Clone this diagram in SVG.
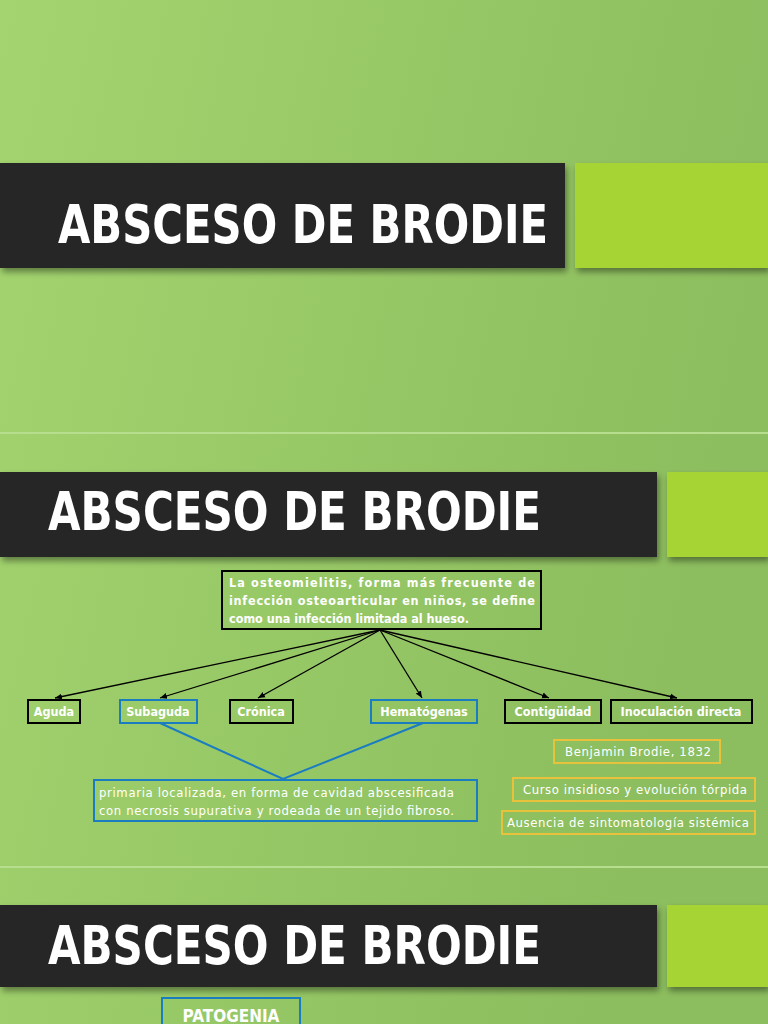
<svg xmlns="http://www.w3.org/2000/svg" width="768" height="1024" viewBox="0 0 768 1024">
<defs>
<linearGradient id="bg" x1="0" y1="0" x2="1" y2="0.3"><stop offset="0" stop-color="#a3d46f"/><stop offset="1" stop-color="#8cbd5e"/></linearGradient>
<marker id="ah" markerWidth="8" markerHeight="8" refX="7" refY="4" orient="auto" markerUnits="userSpaceOnUse"><path d="M0,1 L7,4 L0,7 z" fill="#000"/></marker>
<filter id="sh" x="-5%" y="-10%" width="110%" height="130%"><feDropShadow dx="2" dy="4" stdDeviation="3" flood-opacity="0.4"/></filter>
</defs>
<style>
.t{font-family:"DejaVu Sans Condensed","DejaVu Sans",sans-serif;fill:#fff}
.title{font-size:54px;font-weight:bold}
.nb{fill:none;stroke:#000;stroke-width:2}
.bb{fill:none;stroke:#1a7cc1;stroke-width:2}
.ob{fill:none;stroke:#e8c23a;stroke-width:2}
.nt{font-size:12.5px;font-weight:bold}
.ot{font-size:13px}
.bar{fill:#262626}
.sq{fill:#a6d436}
</style>
<rect width="768" height="1024" fill="url(#bg)"/>
<rect y="432" width="768" height="2" fill="#b7dd8f"/>
<rect y="866" width="768" height="2" fill="#b7dd8f"/>
<g id="slide1">
<rect class="bar" x="0" y="163" width="565" height="105" filter="url(#sh)"/>
<rect class="sq" x="575" y="163" width="193" height="105" filter="url(#sh)"/>
<text class="t title" x="58" y="243" font-size="56" textLength="490" lengthAdjust="spacingAndGlyphs">ABSCESO DE BRODIE</text>
</g>
<g id="slide2-title">
<rect class="bar" x="0" y="472" width="657" height="85" filter="url(#sh)"/>
<rect class="sq" x="667" y="472" width="101" height="85" filter="url(#sh)"/>
<text class="t title" x="48" y="530" textLength="493" lengthAdjust="spacingAndGlyphs">ABSCESO DE BRODIE</text>
</g>
<g id="connectors" stroke="#000" stroke-width="1.3">
<line x1="380" y1="630" x2="55" y2="698" marker-end="url(#ah)"/>
<line x1="380" y1="630" x2="160" y2="698" marker-end="url(#ah)"/>
<line x1="380" y1="630" x2="258" y2="698" marker-end="url(#ah)"/>
<line x1="380" y1="630" x2="422" y2="698" marker-end="url(#ah)"/>
<line x1="380" y1="630" x2="549" y2="698" marker-end="url(#ah)"/>
<line x1="380" y1="630" x2="677" y2="698" marker-end="url(#ah)"/>
<polyline points="160,723 283,779 423,723" fill="none" stroke="#1a7cc1" stroke-width="2"/>
</g>
<g id="central">
<rect class="nb" x="222" y="571" width="319" height="58"/>
<text class="t nt" x="229" y="587" textLength="306" lengthAdjust="spacing">La osteomielitis, forma más frecuente de</text>
<text class="t nt" x="229" y="605" textLength="306" lengthAdjust="spacing">infección osteoarticular en niños, se define</text>
<text class="t nt" x="229" y="623">como una infección limitada al hueso.</text>
</g>
<g id="aguda"><rect class="nb" x="28" y="700" width="52" height="23"/><text class="t nt" x="54" y="716" text-anchor="middle">Aguda</text></g>
<g id="subaguda"><rect class="bb" x="120" y="700" width="77" height="23"/><text class="t nt" x="158" y="716" text-anchor="middle">Subaguda</text></g>
<g id="cronica"><rect class="nb" x="230" y="700" width="63" height="23"/><text class="t nt" x="261" y="716" text-anchor="middle">Crónica</text></g>
<g id="hematogenas"><rect class="bb" x="371" y="700" width="106" height="23"/><text class="t nt" x="424" y="716" text-anchor="middle">Hematógenas</text></g>
<g id="contiguidad"><rect class="nb" x="505" y="700" width="96" height="23"/><text class="t nt" x="553" y="716" text-anchor="middle">Contigüidad</text></g>
<g id="inoculacion"><rect class="nb" x="611" y="700" width="141" height="23"/><text class="t nt" x="681" y="716" text-anchor="middle">Inoculación directa</text></g>
<g id="primaria">
<rect class="bb" x="94" y="780" width="383" height="41"/>
<text class="t ot" x="99" y="797" textLength="355" lengthAdjust="spacing">primaria localizada, en forma de cavidad abscesificada</text>
<text class="t ot" x="99" y="815" textLength="355" lengthAdjust="spacing">con necrosis supurativa y rodeada de un tejido fibroso.</text>
</g>
<g id="benjamin"><rect class="ob" x="554" y="740" width="166" height="23"/><text class="t ot" x="565" y="756" textLength="146" lengthAdjust="spacing">Benjamin Brodie, 1832</text></g>
<g id="curso"><rect class="ob" x="513" y="778" width="242" height="23"/><text class="t ot" x="523" y="794" textLength="224" lengthAdjust="spacing">Curso insidioso y evolución tórpida</text></g>
<g id="ausencia"><rect class="ob" x="502" y="811" width="253" height="23"/><text class="t ot" x="507" y="827" textLength="242" lengthAdjust="spacing">Ausencia de sintomatología sistémica</text></g>
<g id="slide3">
<rect class="bar" x="0" y="905" width="657" height="82" filter="url(#sh)"/>
<rect class="sq" x="667" y="905" width="101" height="82" filter="url(#sh)"/>
<text class="t title" x="48" y="964" textLength="493" lengthAdjust="spacingAndGlyphs">ABSCESO DE BRODIE</text>
</g>
<g id="patogenia"><rect class="bb" x="162" y="998" width="138" height="34"/><text class="t" x="231" y="1022" font-size="17" font-weight="bold" text-anchor="middle">PATOGENIA</text></g>
</svg>
